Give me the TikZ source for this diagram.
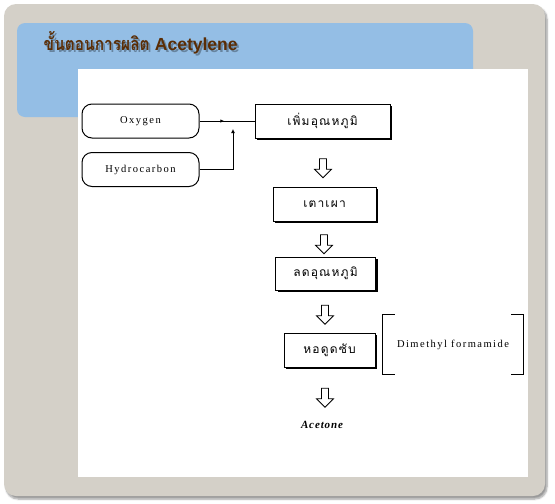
\documentclass[tikz,border=0pt]{standalone}
\usepackage{fontspec}
\setmainfont{Liberation Serif}
\newfontfamily\thaifont[Script=Thai,LetterSpace=10]{Loma}
\newfontfamily\titlethai[Script=Thai,FakeStretch=0.86]{Loma}
\newfontfamily\titlelatin{Liberation Sans}
\newfontfamily\spacedserif[LetterSpace=14]{Liberation Serif}
\newfontfamily\productserif[LetterSpace=8]{Liberation Serif}
\usetikzlibrary{shapes.arrows,arrows.meta,positioning,calc,decorations.markings,shadows,shadows.blur}
\definecolor{PanelGray}{HTML}{D4D0C8}
\definecolor{PanelBlue}{HTML}{94BEE5}
\definecolor{TitleBrown}{HTML}{5A2D05}
\tikzset{
    % Rounded input boxes
    feed/.style={
        rectangle,
        rounded corners=10pt,
        draw,
        line width=1pt,
        minimum width=117pt,
        minimum height=34pt,
        font=\spacedserif\fontsize{10.5}{12}\selectfont
    },
    % Process boxes with a hard shadow
    stage/.style={
        rectangle,
        draw,
        line width=1pt,
        fill=white,
        minimum height=34pt,
        font=\thaifont\fontsize{12}{14}\selectfont,
        drop shadow={shadow xshift=2pt, shadow yshift=-2pt, opacity=1, fill=black}
    },
    flow/.style={
        single arrow,
        draw,
        line width=0.8pt,
        fill=white,
        shape border rotate=270,
        minimum width=17pt,
        minimum height=19pt,
        inner sep=3pt,
        single arrow head extend=5pt
    },
    line/.style={
        line width=1pt
    },
    arrow/.style={
        line,
        -{Latex[length=4pt,width=4pt]}
    },
    heading/.style={
        anchor=base west,
        inner sep=0pt
    }
}
\begin{document}
\begin{tikzpicture}[x=1pt, y=-1pt]
    \useasboundingbox (0,0) rectangle (555,504);

    % Panels
    \fill[PanelGray, rounded corners=12pt,
          blur shadow={shadow xshift=2pt, shadow yshift=-3pt, shadow blur steps=6}]
          (4,4) rectangle (545,496);
    \fill[PanelBlue, rounded corners=8pt] (17,23) rectangle (473,117);
    \fill[white] (78,69) rectangle (528,477);

    % Title with its shadow
    \node[heading, text=black, opacity=0.3] (titleshadow) at (45.5,52.5)
          {\titlethai\bfseries\fontsize{18}{20}\selectfont ขั้นตอนการผลิต\ \titlelatin\bfseries\fontsize{17.5}{20}\selectfont Acetylene};
    \node[heading, text=TitleBrown] (title) at (43.5,50)
          {\titlethai\bfseries\fontsize{18}{20}\selectfont ขั้นตอนการผลิต\ \titlelatin\bfseries\fontsize{17.5}{20}\selectfont Acetylene};

    % Inputs
    \node[feed] (oxy) at (140.5,121) {Oxygen};
    \node[feed] (hydro) at (140.5,169.5) {Hydrocarbon};

    % Process steps
    \node[stage, minimum width=135pt] (heat) at (322.5,121) {เพิ่มอุณหภูมิ};
    \node[stage, minimum width=103pt] (furnace) at (324.5,204) {เตาเผา};
    \node[stage, minimum width=100pt, minimum height=33pt] (cool) at (325.5,273.5) {ลดอุณหภูมิ};
    \node[stage, minimum width=91pt] (tower) at (329.5,350) {หอดูดซับ};

    % Solvent and product
    \node[minimum width=140pt, minimum height=59pt,
          font=\spacedserif\fontsize{10.5}{12}\selectfont] (solvent) at (453,344.5) {Dimethyl formamide};
    \node[font=\productserif\fontsize{11}{12}\selectfont\bfseries\itshape] (product) at (322,425) {Acetone};

    % Hollow arrows
    \node[flow] (down1) at (323,166.5) {};
    \node[flow] (down2) at (324,242.5) {};
    \node[flow] (down3) at (325,313) {};
    \node[flow] (down4) at (325,396) {};

    % Feed lines
    \coordinate (merge) at (233,129);
    \draw[line, postaction={decorate},
          decoration={markings, mark=at position 0.45 with {\arrow{Latex[length=4pt,width=3.5pt]}}}]
          (oxy.east) -- (heat.west);
    \draw[arrow] (hydro.east) -| (merge);

    % Brackets
    \draw[line] ([xshift=12pt]solvent.north west) -- (solvent.north west)
          -- (solvent.south west) -- ++(12,0);
    \draw[line] ([xshift=-12pt]solvent.north east) -- (solvent.north east)
          -- (solvent.south east) -- ++(-12,0);
\end{tikzpicture}
\end{document}
